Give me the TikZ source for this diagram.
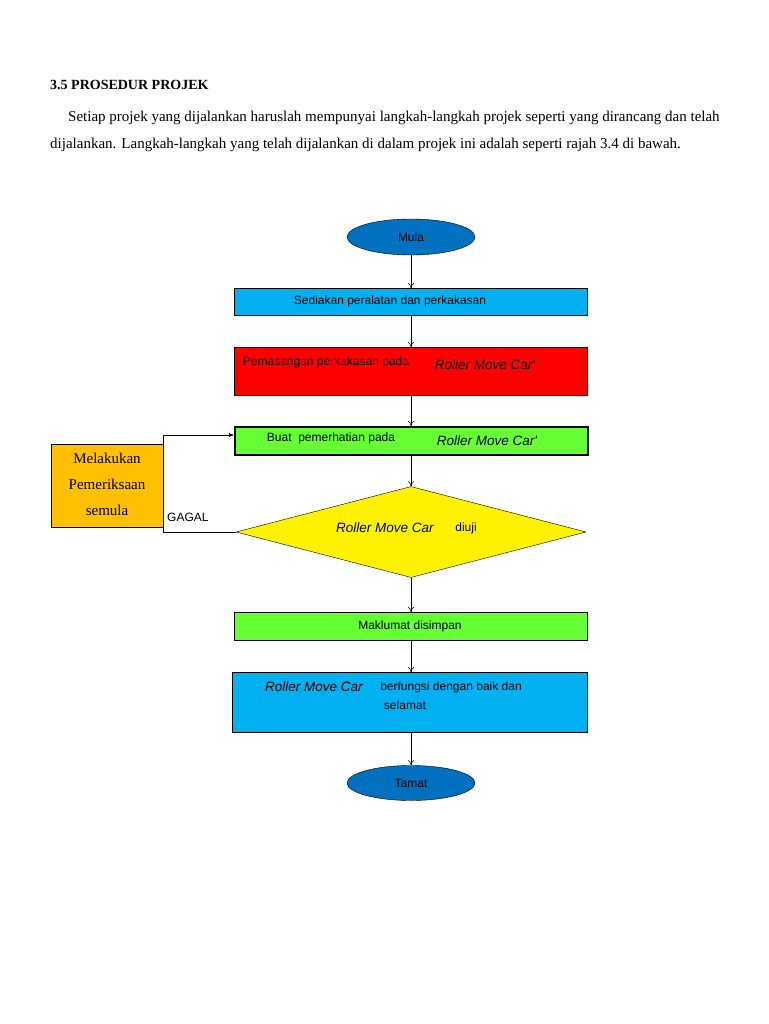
\documentclass[tikz,border=0pt]{standalone}
\usepackage{fontspec}
\setmainfont{Liberation Serif}
\newfontfamily\sans{Liberation Sans}
\usetikzlibrary{shapes.geometric,arrows.meta}
\definecolor{dblue}{RGB}{0,112,192}
\definecolor{cyanb}{RGB}{0,176,240}
\definecolor{greenb}{RGB}{102,255,51}
\definecolor{orangeb}{RGB}{255,192,0}
\begin{document}
\begin{tikzpicture}[x=1pt,y=-1pt,
  box/.style={draw=black,line width=0.8pt,rectangle,anchor=north west,inner sep=0pt},
  lbl/.style={font=\sans\fontsize{12}{14}\selectfont,inner sep=0pt},
  itl/.style={font=\sans\itshape\fontsize{13.5}{15}\selectfont,inner sep=0pt},
  ell/.style={draw=black,fill=dblue,ellipse,minimum width=128pt,minimum height=36pt,inner sep=0pt},
  arr/.style={-{To[length=5pt,width=6pt]},line width=0.5pt}]
\useasboundingbox (0,0) rectangle (768,1024);
\node[anchor=west,font=\bfseries\fontsize{14}{16}\selectfont,inner sep=0pt] (h) at (50,85) {3.5 PROSEDUR PROJEK};
\node[anchor=west,font=\fontsize{15}{17}\selectfont,inner sep=0pt] (p1) at (68,118) {Setiap projek yang dijalankan haruslah mempunyai langkah-langkah projek seperti yang dirancang dan telah};
\node[anchor=west,font=\fontsize{15}{17}\selectfont,inner sep=0pt] (p2) at (50,145) {dijalankan. Langkah-langkah yang telah dijalankan di dalam projek ini adalah seperti rajah 3.4 di bawah.};

\node[ell,lbl] (mula) at (411,237) {Mula};
\node[box,fill=cyanb,minimum width=353pt,minimum height=27pt] (b1) at (234,288) {};
\node[lbl] (t1) at (390,301) {Sediakan peralatan dan perkakasan};
\node[box,fill=red,minimum width=353pt,minimum height=48pt] (b2) at (234,347) {};
\node[lbl] (t2a) at (326,362) {Pemasangan perkakasan pada};
\node[itl] (t2b) at (485,365) {Roller Move Car'};
\node[box,fill=greenb,line width=1.6pt,minimum width=353pt,minimum height=28pt] (b3) at (234,426) {};
\node[lbl] (t3a) at (331,438) {Buat\ \ pemerhatian pada};
\node[itl] (t3b) at (487,441) {Roller Move Car'};
\node[draw=black,fill=yellow,diamond,aspect=3.8,minimum width=350pt,minimum height=91pt,inner sep=0pt] (d) at (411,532) {};
\node[itl] (td1) at (385,528) {Roller Move Car};
\node[lbl] (td2) at (466,528) {diuji};
\node[box,fill=orangeb,minimum width=112pt,minimum height=83pt] (lb) at (51,444) {};
\node[align=center,font=\fontsize{15}{26}\selectfont,inner sep=0pt] (tl) at (107,484) {Melakukan\\Pemeriksaan\\semula};
\node[lbl,anchor=west] (gagal) at (167,517) {GAGAL};
\node[box,fill=greenb,minimum width=353pt,minimum height=28pt] (b4) at (234,612) {};
\node[lbl] (t4) at (410,626) {Maklumat disimpan};
\node[box,fill=cyanb,minimum width=355pt,minimum height=60pt] (b5) at (232,672) {};
\node[itl] (t5a) at (314,687) {Roller Move Car};
\node[lbl] (t5b) at (451,687) {berfungsi dengan baik dan};
\node[lbl] (t5c) at (405,705) {selamat};
\node[ell,lbl,minimum height=35pt] (tamat) at (411,783) {Tamat};

\draw[arr] (mula.south) -- (b1.north -| mula.south);
\draw[arr] (b1.south -| mula.south) -- (b2.north -| mula.south);
\draw[arr] (b2.south -| mula.south) -- (b3.north -| mula.south);
\draw[arr] (b3.south -| mula.south) -- (d.north);
\draw[arr] (d.south) -- (b4.north -| d.south);
\draw[arr] (b4.south -| d.south) -- (b5.north -| d.south);
\draw[arr] (b5.south -| d.south) -- (tamat.north);
\coordinate (c1) at (163,532);
\coordinate (c2) at (163,435);
\draw[-{Latex[length=5pt,width=4pt]},line width=0.5pt] (d.west) -- (c1) -- (c2) -- (b3.west |- c2);
\end{tikzpicture}
\end{document}
